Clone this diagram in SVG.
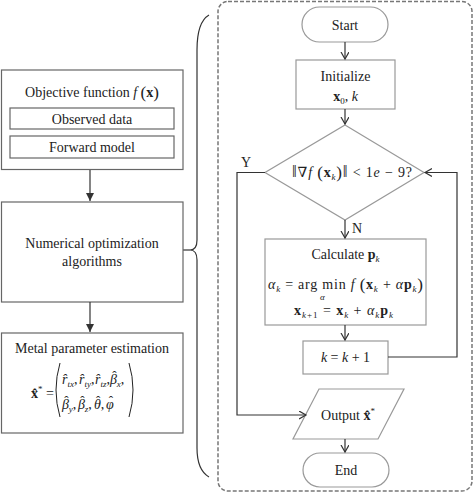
<svg xmlns="http://www.w3.org/2000/svg" width="474" height="494" viewBox="0 0 474 494" font-family="'Liberation Serif', 'DejaVu Serif', serif">
<style>
  text { font-family: 'Liberation Serif', 'DejaVu Serif', serif; font-size: 14px; fill: #222; }
  .box { fill: #fff; stroke: #666; stroke-width: 1.2; }
  .node { fill: #fff; stroke: #999; stroke-width: 1.2; }
  .conn { fill: none; stroke: #333; stroke-width: 1.2; }
  .m { text-anchor: middle; }
  .i { font-style: italic; }
  .b { font-weight: bold; }
  .s { font-size: 9px; }
  .h { font-size: 13px; font-style: normal; }
  .p { font-size: 17px; }
</style>
<defs>
  <marker id="tri" markerWidth="10" markerHeight="10" refX="8" refY="4" orient="auto" markerUnits="userSpaceOnUse">
    <path d="M0,0 L8,4 L0,8 Z" fill="#333"/>
  </marker>
  <marker id="open" markerWidth="10" markerHeight="10" refX="7" refY="4" orient="auto" markerUnits="userSpaceOnUse">
    <path d="M0,0 L7,4 L0,8" fill="none" stroke="#333" stroke-width="1.2"/>
  </marker>
</defs>

<rect width="474" height="494" fill="#fff"/>

<!-- dashed frame -->
<rect id="frame" x="218" y="1.5" width="254" height="489.5" rx="10" fill="none" stroke="#777" stroke-width="1.5" stroke-dasharray="4 2"/>

<!-- brace -->
<g id="brace">
  <path class="conn" d="M209,15 Q197,22 197,50 L197,240 Q197,250 190,250 Q197,250 197,260 L197,448 Q197,470 209,477"/>
  <line class="conn" x1="183" y1="250" x2="190" y2="250"/>
</g>

<!-- left column -->
<g id="objective">
  <rect class="box" x="1.5" y="70" width="181.5" height="99.5"/>
  <text x="92" y="97" class="m">Objective function <tspan class="i">f</tspan> <tspan class="p" dy="1">(</tspan><tspan class="b" dy="-1">x</tspan><tspan class="p" dy="1">)</tspan></text>
  <rect class="box" x="10" y="108" width="164" height="21"/>
  <text x="92" y="124" class="m">Observed data</text>
  <rect class="box" x="10" y="136" width="164" height="22"/>
  <text x="92" y="152" class="m">Forward model</text>
</g>
<g id="numerical">
  <rect class="box" x="1.5" y="202" width="181.5" height="100"/>
  <text x="92" y="248" class="m">Numerical optimization</text>
  <text x="92" y="266" class="m">algorithms</text>
</g>
<g id="metal">
  <rect class="box" x="1.5" y="333" width="181.5" height="100"/>
  <text x="92" y="353" class="m">Metal parameter estimation</text>
  <text x="31" y="398"><tspan class="b">x̂</tspan><tspan class="s" dy="-6">*</tspan><tspan dy="6"> =</tspan></text>
  <path d="M60,363 Q52,390 60,417" fill="none" stroke="#222" stroke-width="1"/>
  <path d="M129,363 Q137,390 129,417" fill="none" stroke="#222" stroke-width="1"/>
  <!-- line 1 -->
  <text x="62" y="384" class="i">r̂<tspan class="s" dy="3">tx</tspan><tspan dy="-3" font-style="normal">,</tspan></text>
  <text x="79" y="384" class="i">r̂<tspan class="s" dy="3">ty</tspan><tspan dy="-3" font-style="normal">,</tspan></text>
  <text x="95" y="384" class="i">r̂<tspan class="s" dy="3">tz</tspan><tspan dy="-3" font-style="normal">,</tspan></text>
  <text x="110" y="384" class="i">β<tspan class="h" dx="-4.8" dy="-4">ˆ</tspan><tspan class="s" dx="0.3" dy="7">x</tspan><tspan dy="-3" font-style="normal">,</tspan></text>
  <!-- line 2 -->
  <text x="62" y="409" class="i">β<tspan class="h" dx="-4.8" dy="-4">ˆ</tspan><tspan class="s" dx="0.3" dy="7">y</tspan><tspan dy="-3" font-style="normal">,</tspan></text>
  <text x="78" y="409" class="i">β<tspan class="h" dx="-4.8" dy="-4">ˆ</tspan><tspan class="s" dx="0.3" dy="7">z</tspan><tspan dy="-3" font-style="normal">,</tspan></text>
  <text x="94" y="409" class="i">θ<tspan class="h" dx="-4.8" dy="-4">ˆ</tspan><tspan dx="0.3" dy="4" font-style="normal">,</tspan></text>
  <text x="106" y="409" class="i">φ<tspan class="h" dx="-5" dy="-4">ˆ</tspan></text>
</g>

<!-- flowchart nodes -->
<g id="start">
  <rect class="node" x="302" y="7" width="86" height="35" rx="17.5"/>
  <text x="345" y="30" class="m">Start</text>
</g>
<g id="init">
  <rect class="node" x="296" y="60" width="99" height="49"/>
  <text x="345.5" y="81" class="m">Initialize</text>
  <text x="345.5" y="101" class="m"><tspan class="b">x</tspan><tspan class="s" dy="3">0</tspan><tspan dy="-3">, </tspan><tspan class="i">k</tspan></text>
</g>
<g id="decision">
  <polygon class="node" points="345,125 424,172.5 345,220 265,172.5"/>
  <text x="292" y="177" textLength="120" lengthAdjust="spacing"><tspan class="p">‖</tspan>∇<tspan class="i">f</tspan> <tspan class="p" dy="1">(</tspan><tspan class="b" dy="-1">x</tspan><tspan class="s i" dy="3">k</tspan><tspan class="p" dy="-2">)</tspan><tspan class="p" dy="-1">‖</tspan> &lt; 1<tspan class="i">e</tspan> − 9?</text>
</g>
<g id="calc">
  <rect class="node" x="265" y="239" width="161" height="86"/>
  <text x="345.5" y="259" class="m">Calculate <tspan class="b">p</tspan><tspan class="s i" dy="3">k</tspan></text>
  <text x="268" y="289" textLength="155" lengthAdjust="spacing"><tspan class="i">α</tspan><tspan class="s i" dy="3">k</tspan><tspan dy="-3"> = arg min </tspan><tspan class="i">f</tspan> <tspan class="p" dy="1">(</tspan><tspan class="b" dy="-1">x</tspan><tspan class="s i" dy="3">k</tspan><tspan dy="-3"> + </tspan><tspan class="i">α</tspan><tspan class="b">p</tspan><tspan class="s i" dy="3">k</tspan><tspan class="p" dy="-2">)</tspan></text>
  <text x="320" y="300" class="s i">α</text>
  <text x="294" y="315" textLength="99" lengthAdjust="spacing"><tspan class="b">x</tspan><tspan class="s i" dy="3">k</tspan><tspan class="s">+1</tspan><tspan dy="-3"> = </tspan><tspan class="b">x</tspan><tspan class="s i" dy="3">k</tspan><tspan dy="-3"> + </tspan><tspan class="i">α</tspan><tspan class="s i" dy="3">k</tspan><tspan class="b" dy="-3">p</tspan><tspan class="s i" dy="3">k</tspan></text>
</g>
<g id="incr">
  <rect class="node" x="303" y="341" width="85" height="33"/>
  <text x="345.5" y="362" class="m"><tspan class="i">k</tspan> = <tspan class="i">k</tspan> + 1</text>
</g>
<g id="output">
  <polygon class="node" points="319,389 404,389 378,439 293,439"/>
  <text x="348" y="420" class="m">Output <tspan class="b">x̂</tspan><tspan class="s" dy="-6">*</tspan></text>
</g>
<g id="end">
  <rect class="node" x="303" y="453" width="86" height="34" rx="17"/>
  <text x="346" y="475" class="m">End</text>
</g>

<!-- connectors -->
<g id="connectors">
  <line class="conn" x1="90" y1="170" x2="90" y2="201" marker-end="url(#tri)"/>
  <line class="conn" x1="90" y1="302" x2="90" y2="332" marker-end="url(#tri)"/>
  <line class="conn" x1="345" y1="42" x2="345" y2="59" marker-end="url(#open)"/>
  <line class="conn" x1="345" y1="109" x2="345" y2="124" marker-end="url(#open)"/>
  <line class="conn" x1="345" y1="220" x2="345" y2="238" marker-end="url(#open)"/>
  <line class="conn" x1="345" y1="325" x2="345" y2="340" marker-end="url(#open)"/>
  <line class="conn" x1="345" y1="439" x2="345" y2="452" marker-end="url(#open)"/>
  <polyline class="conn" points="265,172.5 237,172.5 237,415 306,415" marker-end="url(#open)"/>
  <polyline class="conn" points="388,357 457,357 457,172.5 425,172.5" marker-end="url(#open)"/>
  <text x="241" y="167">Y</text>
  <text x="352" y="233">N</text>
</g>
</svg>
